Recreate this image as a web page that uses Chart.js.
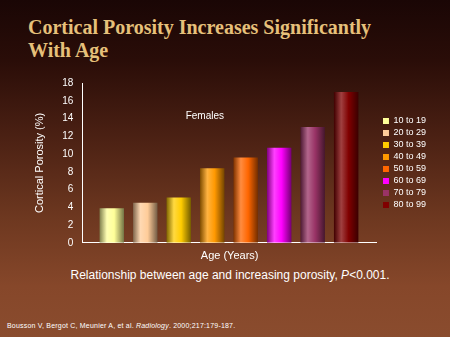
<!DOCTYPE html>
<html>
<head>
<meta charset="utf-8">
<script src="https://cdn.jsdelivr.net/npm/chart.js@4.4.0/dist/chart.umd.min.js"></script>
<style>
  html, body { margin: 0; padding: 0; }
  body {
    width: 450px; height: 337px; overflow: hidden; position: relative;
    background: linear-gradient(180deg, #1a0605 0%, #2a0d08 18%, #4a2013 40%, #6e3820 65%, #86472a 85%, #8a4c2e 100%);
    font-family: "Liberation Sans", Arial, sans-serif;
  }
  .title {
    position: absolute; left: 28px; top: 16px;
    font-family: "Liberation Serif", "Times New Roman", serif;
    font-weight: bold; font-size: 20px; line-height: 23px; color: #e6c07a;
  }
  #wrap { position: absolute; left: 0; top: 72px; width: 450px; height: 192px; }
  .caption {
    position: absolute; left: 0; width: 460px; top: 268px; text-align: center;
    color: #fff; font-size: 12px;
  }
  .ref {
    position: absolute; left: 7px; top: 322px; color: #fff; font-size: 7px; letter-spacing: 0.2px;
  }
</style>
</head>
<body>
<div class="title">Cortical Porosity Increases Significantly<br>With Age</div>
<div id="wrap"><canvas id="porosityChart"></canvas></div>
<div class="caption">Relationship between age and increasing porosity, <i>P</i>&lt;0.001.</div>
<div class="ref">Bousson V, Bergot C, Meunier A, et al. <i>Radiology</i>. 2000;217:179-187.</div>
<script>
const ageGroups = ['10 to 19', '20 to 29', '30 to 39', '40 to 49', '50 to 59', '60 to 69', '70 to 79', '80 to 99'];
const porosity = [3.9, 4.5, 5.1, 8.4, 9.6, 10.7, 13.05, 17.0];
const barColors = ['#ffff99', '#ffcc99', '#ffcc00', '#ff9900', '#ff6600', '#ff00ff', '#993366', '#800000'];
const yTicks = [0, 2, 4, 6, 8, 10, 12, 14, 16, 18];

function shade(hex, f) {
  // f < 0 darkens, f > 0 lightens
  let r = parseInt(hex.slice(1, 3), 16), g = parseInt(hex.slice(3, 5), 16), b = parseInt(hex.slice(5, 7), 16);
  if (f < 0) { r *= 1 + f; g *= 1 + f; b *= 1 + f; }
  else { r += (255 - r) * f; g += (255 - g) * f; b += (255 - b) * f; }
  return `rgb(${Math.round(r)},${Math.round(g)},${Math.round(b)})`;
}

const BAR_PCT = 0.73;

function cylinderFill(ctx) {
  const chart = ctx.chart;
  const base = barColors[ctx.dataIndex];
  if (!chart.chartArea || ctx.type !== 'data') return base;
  const sx = chart.scales.x;
  const x = sx.getPixelForValue(ctx.dataIndex);
  const half = (sx.getPixelForValue(1) - sx.getPixelForValue(0)) * BAR_PCT / 2;
  const g = chart.ctx.createLinearGradient(x - half, 0, x + half, 0);
  g.addColorStop(0, shade(base, -0.5));
  g.addColorStop(0.3, shade(base, 0.25));
  g.addColorStop(0.6, base);
  g.addColorStop(1, shade(base, -0.55));
  return g;
}

const extras = {
  id: 'extras',
  afterLayout(chart) {
    // nudge the legend up and right so it sits where the slide has it
    chart.legend.top -= 9;
    chart.legend.bottom -= 9;
    chart.legend.left += 3;
    chart.legend.right += 3;
  },
  afterDraw(chart) {
    const c = chart.ctx;
    const x = chart.scales.x.getPixelForValue(2.78);
    const y = chart.scales.y.getPixelForValue(14.2);
    c.save();
    c.fillStyle = '#fff';
    c.font = '10px "Liberation Sans", Arial, sans-serif';
    c.textAlign = 'center';
    c.textBaseline = 'middle';
    c.fillText('Females', x, y);
    c.restore();
  }
};

new Chart(document.getElementById('porosityChart'), {
  type: 'bar',
  data: {
    datasets: [{
      data: porosity.map((v, i) => ({ x: i, y: v })),
      backgroundColor: cylinderFill,
      borderWidth: 0,
      barPercentage: BAR_PCT,
      categoryPercentage: 1
    }]
  },
  options: {
    responsive: true,
    maintainAspectRatio: false,
    animation: false,
    layout: { padding: { left: 33, right: 17, top: 9, bottom: 1 } },
    plugins: {
      tooltip: { enabled: false },
      legend: {
        position: 'right',
        align: 'center',
        labels: {
          color: '#fff',
          boxWidth: 6,
          boxHeight: 6,
          padding: 3,
          font: { size: 9, family: '"Liberation Sans", Arial, sans-serif' },
          generateLabels: () => ageGroups.map((g, i) => ({
            text: g,
            fillStyle: barColors[i],
            strokeStyle: barColors[i],
            lineWidth: 0,
            fontColor: '#fff',
            index: i
          }))
        }
      }
    },
    scales: {
      x: {
        type: 'linear',
        min: -0.88, max: 7.92,
        offset: false,
        grid: { display: false, drawTicks: false },
        border: { color: '#fff', width: 1 },
        ticks: { display: false },
        title: { display: true, text: 'Age (Years)', color: '#fff', font: { size: 11 }, padding: { top: 7, bottom: 0 } }
      },
      y: {
        min: 0, max: 18,
        afterBuildTicks: axis => { axis.ticks = yTicks.map(v => ({ value: v })); },
        grid: { display: false, drawOnChartArea: false, drawTicks: true, tickLength: 4, color: '#fff' },
        border: { color: '#fff', width: 1 },
        ticks: { color: '#fff', font: { size: 10 }, padding: 5 },
        title: { display: true, text: 'Cortical Porosity (%)', color: '#fff', font: { size: 11 }, padding: { top: 0, bottom: 11 } }
      }
    }
  },
  plugins: [extras]
});
</script>
</body>
</html>
